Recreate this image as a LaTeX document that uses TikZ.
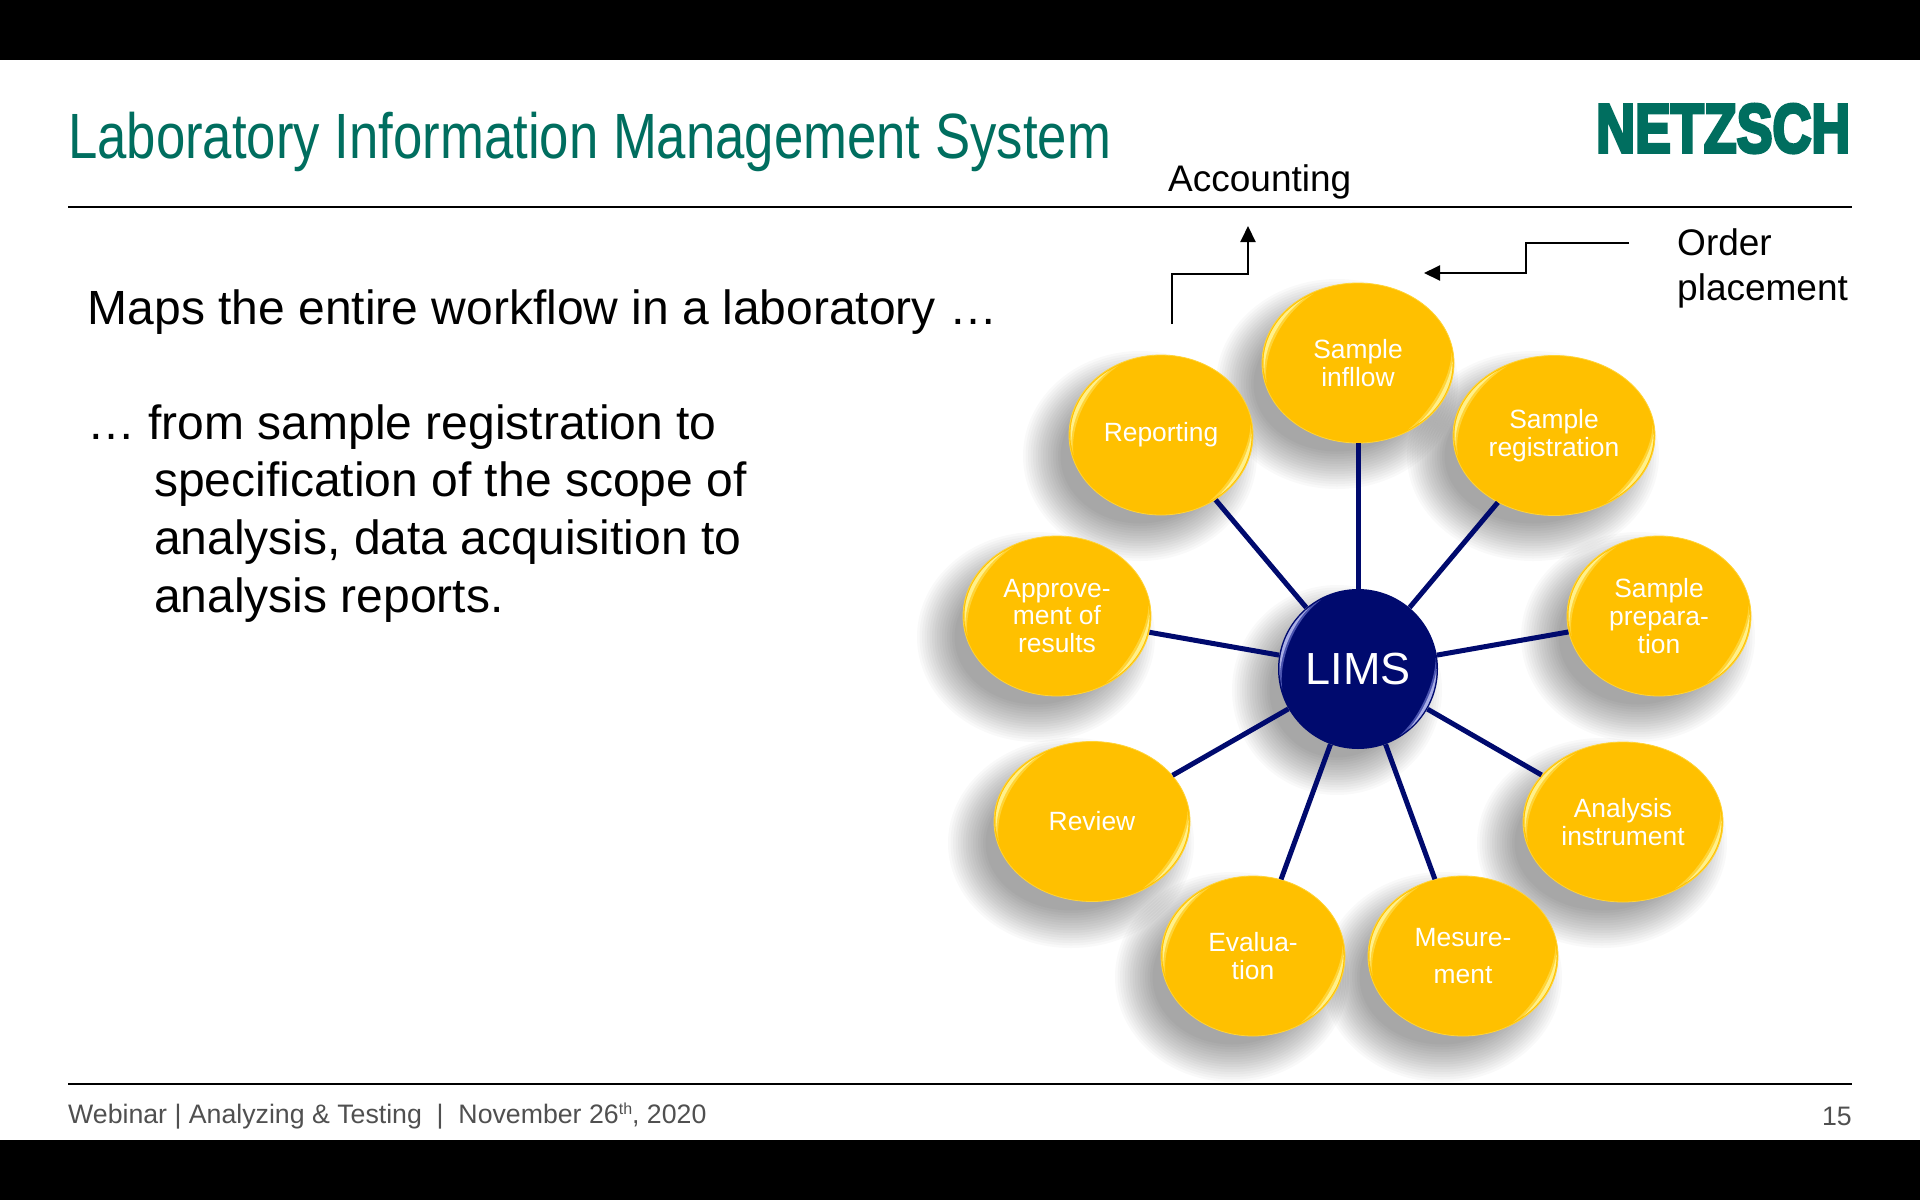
\documentclass[tikz,border=0pt]{standalone}
\usepackage{fontspec}
\usepackage{graphicx}
\usetikzlibrary{shapes.geometric,arrows.meta}
\setmainfont{Liberation Sans}
\newfontfamily\titlefont[FakeStretch=0.8235]{Liberation Sans}
\newfontfamily\logofont[FakeBold=5]{Liberation Sans}
\definecolor{teal}{HTML}{006E5F}
\definecolor{gold}{HTML}{FFC000}
\definecolor{goldrim}{HTML}{FFD437}
\definecolor{goldhi}{HTML}{FFF08A}
\definecolor{navy}{HTML}{000A6E}
\definecolor{navyrim}{HTML}{4A54B0}
\definecolor{navyhi}{HTML}{A9AEE6}
\definecolor{footgray}{HTML}{505050}
\tikzset{
  x=1pt,y=-1pt,
  bubble/.style={ellipse,fill=gold,draw=goldrim,line width=0.8pt,inner sep=0pt,text=white,align=center,
    font=\fontsize{26.4}{27.6}\selectfont},
  hub/.style={ellipse,fill=navy,inner sep=0pt,text=white,align=center,font=\fontsize{45}{50}\selectfont},
  spoke/.style={draw=navy,line width=5pt},
  rule/.style={draw=black,line width=2pt},
  flow/.style={draw=black,line width=2pt,-{Triangle[length=16pt,width=15pt]}},
  bodytext/.style={anchor=base west,inner sep=0pt,font=\fontsize{48}{58}\selectfont,text=black},
  sidetext/.style={anchor=base west,inner sep=0pt,font=\fontsize{37}{45}\selectfont,text=black,align=left},
  foottext/.style={anchor=base west,inner sep=0pt,font=\fontsize{26.7}{30}\selectfont,text=footgray},
}
% blurred drop shadow: cx cy rx ry
\newcommand{\softshadow}[4]{%
  \foreach \k in {0,...,15}{%
    \fill[black,opacity=0.023] ({#1-21},{#2+21}) ellipse[x radius={#3+25-2.5*\k},y radius={#4+25-2.5*\k}];
  }%
}
% crescent highlight: cx cy rx ry a b width
\newcommand{\crescent}[8]{%
  \fill[#8] plot[domain=#5:#6,samples=24] ({#1+(#3-1.5)*cos(\x)},{#2-(#4-1.5)*sin(\x)})
    -- plot[domain=#6:#5,samples=24] ({#1+(#3-1.5-#7*sin(180*(\x-(#5))/((#6)-(#5))))*cos(\x)},{#2-(#4-1.5-#7*sin(180*(\x-(#5))/((#6)-(#5))))*sin(\x)}) -- cycle;
}
\newcommand{\bubblenode}[6]{%
  \node[bubble,minimum width={2*#4*1pt},minimum height={2*#5*1pt}] (#1) at (#2,#3) {#6};
  \crescent{#2}{#3}{#4}{#5}{118}{195}{6}{goldrim}
  \crescent{#2}{#3}{#4}{#5}{125}{188}{3.5}{goldhi}
  \crescent{#2}{#3}{#4}{#5}{-58}{8}{6}{goldrim}
  \crescent{#2}{#3}{#4}{#5}{-50}{2}{3.5}{goldhi}
}
\begin{document}
\begin{tikzpicture}
\useasboundingbox (0,0) rectangle (1920,1200);
\fill[white] (0,0) rectangle (1920,1200);
\fill[black] (0,0) rectangle (1920,60);
\fill[black] (0,1140) rectangle (1920,1200);
% title, logo
\node[anchor=base west,inner sep=0pt,text=teal,font=\titlefont\fontsize{64}{70}\selectfont] (title) at (68,158) {Laboratory Information Management System};
\node[anchor=north west,inner sep=0pt,text=teal] (logo) at (1596,104) {\resizebox{254pt}{48pt}{\logofont\bfseries NETZSCH}};
% rules
\coordinate (ruleTopL) at (68,207);
\coordinate (ruleTopR) at (1852,207);
\coordinate (ruleBotL) at (68,1084);
\coordinate (ruleBotR) at (1852,1084);
\draw[rule] (ruleTopL) -- (ruleTopR);
\draw[rule] (ruleBotL) -- (ruleBotR);
% body
\node[bodytext] (b1) at (87.5,324) {Maps the entire workflow in a laboratory …};
\node[bodytext] (b2) at (87,439) {… from sample registration to};
\node[bodytext] (b3) at (154,496) {specification of the scope of};
\node[bodytext] (b4) at (154,554) {analysis, data acquisition to};
\node[bodytext] (b5) at (154,612) {analysis reports.};
% footer
\node[foottext] (foot) at (68,1123) {Webinar | Analyzing \& Testing\ \ |\ \ November 26\raisebox{9pt}{\fontsize{16}{16}\selectfont th}, 2020};
\node[foottext,anchor=base east] (page) at (1852,1125) {15};
% side labels
\node[sidetext] (acc) at (1168,191) {Accounting};
\node[sidetext] (ord1) at (1677,255) {Order};
\node[sidetext] (ord2) at (1677,300) {placement};
% shadows
\softshadow{1358}{363}{96}{80}
\softshadow{1161}{435}{92}{80}
\softshadow{1554}{435}{101}{80}
\softshadow{1659}{616}{92}{80}
\softshadow{1057}{616}{94}{80}
\softshadow{1623}{822}{100}{80}
\softshadow{1092}{822}{98}{80}
\softshadow{1253}{956}{92}{80}
\softshadow{1463}{956}{95}{80}
\softshadow{1358}{669}{80}{80}
% nodes
\node[hub,minimum width=160pt,minimum height=160pt] (lims) at (1358,669) {\raisebox{1pt}{LIMS}};
\crescent{1358}{669}{80}{80}{118}{195}{5}{navyrim}
\crescent{1358}{669}{80}{80}{128}{185}{3}{navyhi}
\crescent{1358}{669}{80}{80}{-58}{8}{5}{navyrim}
\crescent{1358}{669}{80}{80}{-50}{0}{3}{navyhi}
\bubblenode{inflow}{1358}{363}{96}{80}{Sample\\infllow}
\bubblenode{reporting}{1161}{435}{92}{80}{\raisebox{-1pt}{Reporting}}
\bubblenode{registration}{1554}{435.5}{101}{80}{Sample\\registration}
\bubblenode{prep}{1659}{616}{92}{80}{Sample\\prepara-\\tion}
\bubblenode{approve}{1057}{616}{94}{80}{Approve-\\ment of\\results}
\bubblenode{analysis}{1623}{822}{100}{80}{Analysis\\instrument}
\bubblenode{review}{1092}{821.5}{98}{80}{Review}
\bubblenode{evaluation}{1253}{956}{92}{80}{Evalua-\\tion}
\bubblenode{mesure}{1463}{956}{95}{80}{Mesure-\\[10pt]ment}
% spokes
\foreach \n in {inflow,reporting,registration,prep,approve,analysis,review,evaluation,mesure}{
  \draw[spoke] (lims) -- (\n);
}
% arrows
\coordinate (accStart) at (1172,324);
\coordinate (accBend1) at (1172,274);
\coordinate (accBend2) at (1248,274);
\coordinate (accEnd) at (1248,226);
\draw[flow] (accStart) -- (accBend1) -- (accBend2) -- (accEnd);
\coordinate (ordStart) at (1629,243);
\coordinate (ordBend1) at (1526,243);
\coordinate (ordBend2) at (1526,273);
\coordinate (ordEnd) at (1424,273);
\draw[flow] (ordStart) -- (ordBend1) -- (ordBend2) -- (ordEnd);
\end{tikzpicture}
\end{document}
